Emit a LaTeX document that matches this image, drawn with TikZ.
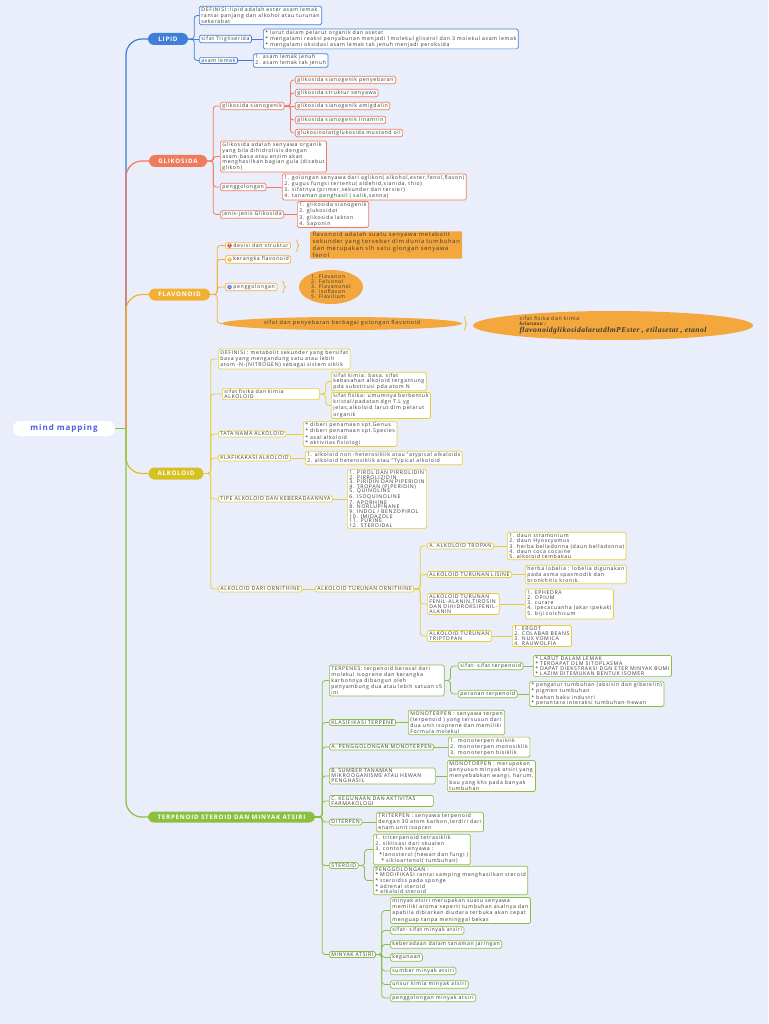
\documentclass[tikz,border=0pt]{standalone}
\usepackage{fontspec}
\setmainfont{Open Sans}[LetterSpace=12]
\newfontfamily\notefont{Liberation Serif}[LetterSpace=6]
\usepackage{tikz}
\usetikzlibrary{calc,shapes.geometric,decorations.pathreplacing}
\definecolor{mmbg}{HTML}{E9EEFA}
\definecolor{mmink}{HTML}{3A3A3A}
\definecolor{mmroot}{HTML}{4A5CE0}
\definecolor{mmblue}{HTML}{3F7FD8}
\definecolor{mmsalmon}{HTML}{F07A5C}
\definecolor{mmamber}{HTML}{F2B134}
\definecolor{mmorange}{HTML}{F3A73C}
\definecolor{mmmustard}{HTML}{D6C022}
\definecolor{mmyellow}{HTML}{E8CE36}
\definecolor{mmgreen}{HTML}{8CBF3F}
\definecolor{mmred}{HTML}{E5483E}
\definecolor{mmdotblue}{HTML}{3F6FE0}

\begin{document}
\begin{tikzpicture}[x=1pt,y=-1pt,
  every node/.style={font=\fontsize{5.2}{5}\selectfont,align=left,text=mmink,inner xsep=2pt,inner ysep=1.1pt},
  root/.style={fill=white,rounded corners=7pt,minimum width=102pt,minimum height=15pt,align=center,text=mmroot,font=\fontsize{8}{9}\selectfont\bfseries},
  topic/.style={rounded corners=6pt,minimum height=12pt,align=center,text=white,font=\fontsize{6.2}{6.2}\selectfont\bfseries},
  leaf/.style={draw=#1,fill=white,rounded corners=1.5pt,line width=0.7pt,anchor=west},
  note/.style={fill=mmorange,rounded corners=1pt,anchor=west,font=\fontsize{5.8}{5.5}\selectfont},
  blob/.style={ellipse,fill=mmorange,inner sep=0pt},
  flag/.style={circle,fill=#1,inner sep=0pt,minimum size=4.5pt,text=white,align=center,font=\fontsize{3.5}{3.5}\selectfont\bfseries},
  clasp/.style={draw=mmamber,line width=0.7pt,decorate,decoration={brace,amplitude=3pt}},
  trunk/.style={draw=#1,line width=1.2pt,rounded corners=16pt},
  link/.style={draw=#1,line width=0.8pt,rounded corners=3pt},
  elbow/.style={to path={-- ++(#1,0) |- (\tikztotarget)}},
  elbow/.default=6
]
\fill[mmbg] (0,0) rectangle (768,1024);
\useasboundingbox (0,0) rectangle (768,1024);

\node[root] (root) at (64,428.5) {mind mapping};
\coordinate (hub) at (126,428.5);
\node[topic,fill=mmblue,minimum width=40pt] (lipid) at (168,39) {LIPID};
\node[topic,fill=mmsalmon,minimum width=58pt] (glik) at (178,161) {GLIKOSIDA};
\node[topic,fill=mmamber,minimum width=61pt] (flav) at (179.5,294.5) {FLAVONOID};
\node[topic,fill=mmmustard,minimum width=55pt] (alk) at (176,473.5) {ALKOLOID};
\node[topic,fill=mmgreen,minimum width=167pt,minimum height=11pt] (terp) at (231.5,817) {TERPENOID STEROID DAN MINYAK ATSIRI};

\node[leaf=mmblue] (lipidDef) at (199,15.5) {DEFINISI :lipid adalah ester asam lemak\\rantai panjang dan alkohol atau turunan\\sekerabat};
\node[leaf=mmblue] (lipidTrig) at (199,39) {sifat Trigliserida};
\node[leaf=mmblue] (lipidTrigList) at (263,39) {* larut dalam pelarut organik dan asetat\\* mengalami reaksi penyabunan menjadi 1molekul gliserol dan 3 molekul asam lemak\\* mengalami oksidasi asam lemak tak jenuh menjadi peroksida};
\node[leaf=mmblue] (lipidAsam) at (199,60.5) {asam lemak};
\node[leaf=mmblue] (lipidAsamList) at (253,60.5) {1. asam lemak jenuh\\2. asam lemak tak jenuh};

\node[leaf=mmsalmon] (glikSiano) at (220,106) {glikosida sianogenik};
\node[leaf=mmsalmon] (glikSianoA) at (295,80) {glikosida sianogenik penyebaran};
\node[leaf=mmsalmon] (glikSianoB) at (295,93) {glikosida struktur senyawa};
\node[leaf=mmsalmon] (glikSianoC) at (295,106) {glikosida sianogenik amigdalin};
\node[leaf=mmsalmon] (glikSianoD) at (295,120) {glikosida sianogenik linamrin};
\node[leaf=mmsalmon] (glikSianoE) at (295,133) {glukosinolat(glukosida mustand oil};
\node[leaf=mmsalmon] (glikDef) at (220,156.5) {Glikosida adalah senyawa organik\\yang bila dihidrolisis dengan\\asam,basa atau enzim akan\\menghasilkan bagian gula (disebut\\glikon)};
\node[leaf=mmsalmon] (glikGol) at (220,187) {penggolongan};
\node[leaf=mmsalmon] (glikGolList) at (282,187) {1. golongan senyawa dari aglikon( alkohol,ester,fenol,flavon)\\2. gugus fungsi tertentu( aldehid,sianida, thio)\\3. sifatnya (primer,sekunder dan tersier)\\4. tanaman penghasil ( salik,senna)};
\node[leaf=mmsalmon] (glikJenis) at (220,214.5) {jenis-jenis Glikosida};
\node[leaf=mmsalmon] (glikJenisList) at (297,214.5) {1. glikosida sianogenik\\2. glukosidat\\3. glikosida lakton\\4. Saponin};

\node[leaf=mmamber] (flavDevisi) at (225,245.5) {\hspace*{6pt}devisi dan struktur};
\node[flag=mmred] (flagRed) at ([xshift=4.5pt]flavDevisi.west) {1};
\node[note,minimum width=152pt,minimum height=22pt] (flavDevisiNote) at (310,245) {flavonoid adalah suatu senyawa metabolit\\sekunder yang tersebar dlm dunia tumbuhan\\dan merupakan slh satu glongan senyawa\\fenol};
\node[leaf=mmamber] (flavKerangka) at (225,259.5) {\hspace*{6pt}kerangka flavonoid};
\node[flag=mmamber] (flagAmber) at ([xshift=4.5pt]flavKerangka.west) {2};
\node[leaf=mmamber] (flavGol) at (225,287) {\hspace*{6pt}penggolongan};
\node[flag=mmdotblue] (flagBlue) at ([xshift=4.5pt]flavGol.west) {3};
\node[blob,minimum width=64pt,minimum height=34pt] (flavGolList) at (331,287) {1. Flavanon\\2. Falvonol\\3. Flavanonol\\4. isoflavon\\5. Flavilium};
\node[blob,minimum width=240pt,minimum height=13pt,font=\fontsize{5.5}{6}\selectfont] (flavSifat) at (342,323.5) {sifat dan penyebaran berbagai golongan flavonoid};
\node[blob,minimum width=280pt,minimum height=29pt] (flavSifatNote) at (613,325.5) {sifat fisika dan kimia\\{\notefont\bfseries\itshape kelarutan :}\\{\notefont\bfseries\itshape\fontsize{7.6}{6.5}\selectfont flavonoidglikosidalarutdlmPEster , etilasetat , etanol}};
\draw[clasp] ([xshift=5pt,yshift=6pt]flavDevisi.east) -- ([xshift=5pt,yshift=-6pt]flavDevisi.east);
\draw[clasp] ([xshift=5pt,yshift=6pt]flavGol.east) -- ([xshift=5pt,yshift=-6pt]flavGol.east);
\draw[clasp] ([xshift=1.5pt,yshift=7pt]flavSifat.east) -- ([xshift=1.5pt,yshift=-7pt]flavSifat.east);

\node[leaf=mmyellow] (alkDef) at (218,359) {DEFINISI : metabolit sekunder yang bersifat\\basa yang mengandung satu atau lebih\\atom -N-(NITROGEN) sebagai sistem siklik};
\node[leaf=mmyellow,text width=93pt] (alkSifat) at (222,394) {sifat fisika dan kimia\\ALKOLOID};
\node[leaf=mmyellow] (alkKimia) at (331,381.5) {sifat kimia: basa, sifat\\kebasahan alkoloid tergantung\\pda substitusi pda atom N};
\node[leaf=mmyellow] (alkFisika) at (331,405.5) {sifat fisika: umumnya berbentuk\\kristal/padatan dgn T.L yg\\jelas,alkoloid larut dlm pelarut\\organik};
\node[leaf=mmyellow] (alkNama) at (218,434) {TATA NAMA ALKOLOID};
\node[leaf=mmyellow] (alkNamaList) at (303,434) {* diberi penamaan spt.Genus\\* diberi penamaan spt.Species\\* asal alkoloid\\* aktivitas fisiologi};
\node[leaf=mmyellow] (alkKlas) at (218,458) {KLAFIKAKASI ALKOLOID};
\node[leaf=mmyellow] (alkKlasList) at (305,458) {1. alkoloid non -heterosiklik atau "atypical alkaloids\\2. alkoloid heterosiklik atau "Typical alkoloid};
\node[leaf=mmyellow] (alkTipe) at (218,499) {TIPE ALKOLOID DAN KEBERADAANNYA};
\node[leaf=mmyellow,font=\fontsize{5.2}{4.6}\selectfont] (alkTipeList) at (347,499) {1. PIROL DAN PIRROLIDIN\\2. PIRROLIZIDIN\\3. PIRIDIN DAN PIPERIDIN\\4. TROPAN (PIPERIDIN)\\5. QUINOLINE\\6. ISOQUINOLINE\\7. APORHINE\\8. NORLUPINANE\\9. INDOL / BENZOPIROL\\10. IMIDAZOLE\\11. PURINE\\12. STEROIDAL};
\node[leaf=mmyellow] (alkOrn) at (218,589) {ALKOLOID DARI ORNITHINE};
\node[leaf=mmyellow] (alkOrnTurunan) at (315,589) {ALKOLOID TURUNAN ORNITHINE};
\node[leaf=mmyellow] (alkTropan) at (427,546) {A. ALKOLOID TROPAN};
\node[leaf=mmyellow] (alkTropanList) at (507,546) {1. daun stramonium\\2. daun Hyoscyamus\\3. herba belladonna (daun belladonna)\\4. daun coca cocaine\\5. alkoloid tembakau};
\node[leaf=mmyellow] (alkLisine) at (427,574.5) {ALKOLOID TURUNAN LISINE};
\node[leaf=mmyellow] (alkLisineNote) at (525,574.5) {herba lobelia : lobelia digunakan\\pada asma spasmodik dan\\bronkhitis kronik.};
\node[leaf=mmyellow] (alkFenil) at (427,604) {ALKOLOID TURUNAN\\FENIL-ALANIN,TIROSIN\\DAN DIHIDROKSIFENIL-\\ALANIN};
\node[leaf=mmyellow,minimum height=30pt] (alkFenilList) at (525,604) {1. EPHEDRA\\2. OPIUM\\3. curare\\4. ipecacuanha (akar ipekak)\\5. biji colchicum};
\node[leaf=mmyellow] (alkTripto) at (427,636) {ALKOLOID TURUNAN\\TRIPTOPAN};
\node[leaf=mmyellow] (alkTriptoList) at (512,636) {1. ERGOT\\2. COLABAR BEANS\\3. NUX VOMICA\\4. RAUWOLFIA};

\node[leaf=mmgreen] (terpDef) at (329,680.5) {TERPENES: terpenoid berasal dari\\molekul isoprene dan kerangka\\karbonnya dibangun oleh\\penyambung dua atau lebih satuan c5\\ini};
\node[leaf=mmgreen] (terpSifat) at (458,666) {sifat- sifat terpenoid};
\node[leaf=mmgreen] (terpSifatList) at (533,666) {* LARUT DALAM LEMAK\\* TERDAPAT DLM SITOPLASMA\\* DAPAT DIEKSTRAKSI DGN ETER MINYAK BUMI\\* LAZIM DITEMUKAN BENTUK ISOMER};
\node[leaf=mmgreen] (terpPeran) at (458,694) {peranan terpenoid};
\node[leaf=mmgreen] (terpPeranList) at (529,694) {* pengatur tumbuhan (absisin dan giberelin)\\* pigmen tumbuhan\\* bahan baku industri\\* perantara interaksi tumbuhan-hewan};
\node[leaf=mmgreen] (terpKlas) at (329,722.5) {KLASIFIKASI TERPENE};
\node[leaf=mmgreen] (terpKlasNote) at (408,722.5) {MONOTERPEN : senyawa terpen\\(terpenoid ) yang tersusun dari\\dua unit isoprene dan memiliki\\Formula molekul};
\node[leaf=mmgreen] (terpGol) at (329,747) {A. PENGGOLONGAN MONOTERPEN};
\node[leaf=mmgreen] (terpGolList) at (448,747) {1. monoterpen Asiklik\\2. monoterpen monosiklik\\3. monoterpen bisiklik};
\node[leaf=mmgreen,text width=102pt] (terpSumber) at (329,776) {B. SUMBER TANAMAN\\MIKROOGANISME ATAU HEWAN\\PENGHASIL};
\node[leaf=mmgreen] (terpSumberNote) at (447,776) {MONOTORPEN : merupakan\\penyusun minyak atsiri yang\\menyebabkan wangi, harum,\\bau yang khs pada banyak\\tumbuhan};
\node[leaf=mmgreen,text width=100pt] (terpGuna) at (329,801) {C. KEGUNAAN DAN AKTIVITAS\\FARMAKOLOGI};
\node[leaf=mmgreen] (terpDiter) at (329,822) {DITERPEN};
\node[leaf=mmgreen] (terpDiterNote) at (376,822) {TRITERPEN : senyawa terpenoid\\dengan 30 atom karbon,terdiri dari\\enam unit isopren};
\node[leaf=mmgreen] (terpSteroid) at (329,865.5) {STEROID};
\node[leaf=mmgreen] (terpSteroidA) at (373,849.5) {1. triterpenoid tetrasiklik\\2. siklisasi dari skualen\\3. contoh senyawa :\\\hspace*{4pt}*lanosterol (hewan dan fungi )\\\hspace*{6pt}* sikloartenol( tumbuhan)};
\node[leaf=mmgreen] (terpSteroidB) at (373,880.5) {PENGGOLONGAN :\\* MODIFIKASI rantai samping menghasilkan steroid\\* steroidss pada sponge\\* adrenal steroid\\* alkaloid steroid};
\node[leaf=mmgreen] (terpAtsiri) at (329,954.5) {MINYAK ATSIRI};
\node[leaf=mmgreen] (terpAtsiriDef) at (390,910.5) {minyak atsiri merupakan suatu senyawa\\memiliki aroma seperti tumbuhan asalnya dan\\apabila dibiarkan diudara terbuka akan cepat\\menguap tanpa meninggal bekas};
\node[leaf=mmgreen] (terpAtsiriSifat) at (390,930.5) {sifat- sifat minyak atsiri};
\node[leaf=mmgreen] (terpAtsiriAda) at (390,944.5) {keberadaan dalam tanaman jaringan};
\node[leaf=mmgreen] (terpAtsiriGuna) at (390,957.5) {kegunaan};
\node[leaf=mmgreen] (terpAtsiriSumber) at (390,971) {sumber minyak atsiri};
\node[leaf=mmgreen] (terpAtsiriUnsur) at (390,984.5) {unsur kimia minyak atsiri};
\node[leaf=mmgreen] (terpAtsiriGol) at (390,998) {penggolongan minyak atsiri};

\draw[trunk=mmgreen] (root.east) -- (hub);
\draw[trunk=mmblue] (hub) |- (lipid.west);
\draw[trunk=mmsalmon] (hub) |- (glik.west);
\draw[trunk=mmamber] (hub) |- (flav.west);
\draw[trunk=mmmustard] (hub) |- (alk.west);
\draw[trunk=mmgreen] (hub) |- (terp.west);

\draw[link=mmblue] (lipid.east) to[elbow] (lipidDef.west);
\draw[link=mmblue] (lipid.east) -- (lipidTrig.west);
\draw[link=mmblue] (lipid.east) to[elbow] (lipidAsam.west);
\draw[link=mmblue] (lipidTrig.east) -- (lipidTrigList.west);
\draw[link=mmblue] (lipidAsam.east) -- (lipidAsamList.west);

\draw[link=mmsalmon] (glik.east) to[elbow] (glikSiano.west);
\draw[link=mmsalmon] (glik.east) to[elbow] (glikDef.west);
\draw[link=mmsalmon] (glik.east) to[elbow] (glikGol.west);
\draw[link=mmsalmon] (glik.east) to[elbow] (glikJenis.west);
\draw[link=mmsalmon] (glikSiano.east) to[elbow] (glikSianoA.west);
\draw[link=mmsalmon] (glikSiano.east) to[elbow] (glikSianoB.west);
\draw[link=mmsalmon] (glikSiano.east) -- (glikSianoC.west);
\draw[link=mmsalmon] (glikSiano.east) to[elbow] (glikSianoD.west);
\draw[link=mmsalmon] (glikSiano.east) to[elbow] (glikSianoE.west);
\draw[link=mmsalmon] (glikGol.east) -- (glikGolList.west);
\draw[link=mmsalmon] (glikJenis.east) -- (glikJenisList.west);

\draw[link=mmamber] (flav.east) to[elbow=7] (flavDevisi.west);
\draw[link=mmamber] (flav.east) to[elbow=7] (flavKerangka.west);
\draw[link=mmamber] (flav.east) to[elbow=7] (flavGol.west);
\draw[link=mmamber] (flav.east) to[elbow=7] (flavSifat.west);

\draw[link=mmyellow] (alk.east) to[elbow=7] (alkDef.west);
\draw[link=mmyellow] (alk.east) to[elbow=7] (alkSifat.west);
\draw[link=mmyellow] (alk.east) to[elbow=7] (alkNama.west);
\draw[link=mmyellow] (alk.east) to[elbow=7] (alkKlas.west);
\draw[link=mmyellow] (alk.east) to[elbow=7] (alkTipe.west);
\draw[link=mmyellow] (alk.east) to[elbow=7] (alkOrn.west);
\draw[link=mmyellow] (alkSifat.east) to[elbow] (alkKimia.west);
\draw[link=mmyellow] (alkSifat.east) to[elbow] (alkFisika.west);
\draw[link=mmyellow] (alkNama.east) -- (alkNamaList.west);
\draw[link=mmyellow] (alkKlas.east) -- (alkKlasList.west);
\draw[link=mmyellow] (alkTipe.east) -- (alkTipeList.west);
\draw[link=mmyellow] (alkOrn.east) -- (alkOrnTurunan.west);
\draw[link=mmyellow] (alkOrnTurunan.east) to[elbow] (alkTropan.west);
\draw[link=mmyellow] (alkOrnTurunan.east) to[elbow] (alkLisine.west);
\draw[link=mmyellow] (alkOrnTurunan.east) to[elbow] (alkFenil.west);
\draw[link=mmyellow] (alkOrnTurunan.east) to[elbow] (alkTripto.west);
\draw[link=mmyellow] (alkTropan.east) -- (alkTropanList.west);
\draw[link=mmyellow] (alkLisine.east) -- (alkLisineNote.west);
\draw[link=mmyellow] (alkFenil.east) -- (alkFenilList.west);
\draw[link=mmyellow] (alkTripto.east) -- (alkTriptoList.west);

\draw[link=mmgreen] (terp.east) to[elbow=7] (terpDef.west);
\draw[link=mmgreen] (terp.east) to[elbow=7] (terpKlas.west);
\draw[link=mmgreen] (terp.east) to[elbow=7] (terpGol.west);
\draw[link=mmgreen] (terp.east) to[elbow=7] (terpSumber.west);
\draw[link=mmgreen] (terp.east) to[elbow=7] (terpGuna.west);
\draw[link=mmgreen] (terp.east) to[elbow=7] (terpDiter.west);
\draw[link=mmgreen] (terp.east) to[elbow=7] (terpSteroid.west);
\draw[link=mmgreen] (terp.east) to[elbow=7] (terpAtsiri.west);
\draw[link=mmgreen] (terpDef.east) to[elbow] (terpSifat.west);
\draw[link=mmgreen] (terpDef.east) to[elbow] (terpPeran.west);
\draw[link=mmgreen] (terpSifat.east) -- (terpSifatList.west);
\draw[link=mmgreen] (terpPeran.east) -- (terpPeranList.west);
\draw[link=mmgreen] (terpKlas.east) -- (terpKlasNote.west);
\draw[link=mmgreen] (terpGol.east) -- (terpGolList.west);
\draw[link=mmgreen] (terpSumber.east) -- (terpSumberNote.west);
\draw[link=mmgreen] (terpDiter.east) -- (terpDiterNote.west);
\draw[link=mmgreen] (terpSteroid.east) to[elbow] (terpSteroidA.west);
\draw[link=mmgreen] (terpSteroid.east) to[elbow] (terpSteroidB.west);
\draw[link=mmgreen] (terpAtsiri.east) to[elbow] (terpAtsiriDef.west);
\draw[link=mmgreen] (terpAtsiri.east) to[elbow] (terpAtsiriSifat.west);
\draw[link=mmgreen] (terpAtsiri.east) to[elbow] (terpAtsiriAda.west);
\draw[link=mmgreen] (terpAtsiri.east) to[elbow] (terpAtsiriGuna.west);
\draw[link=mmgreen] (terpAtsiri.east) to[elbow] (terpAtsiriSumber.west);
\draw[link=mmgreen] (terpAtsiri.east) to[elbow] (terpAtsiriUnsur.west);
\draw[link=mmgreen] (terpAtsiri.east) to[elbow] (terpAtsiriGol.west);
\end{tikzpicture}
\end{document}
